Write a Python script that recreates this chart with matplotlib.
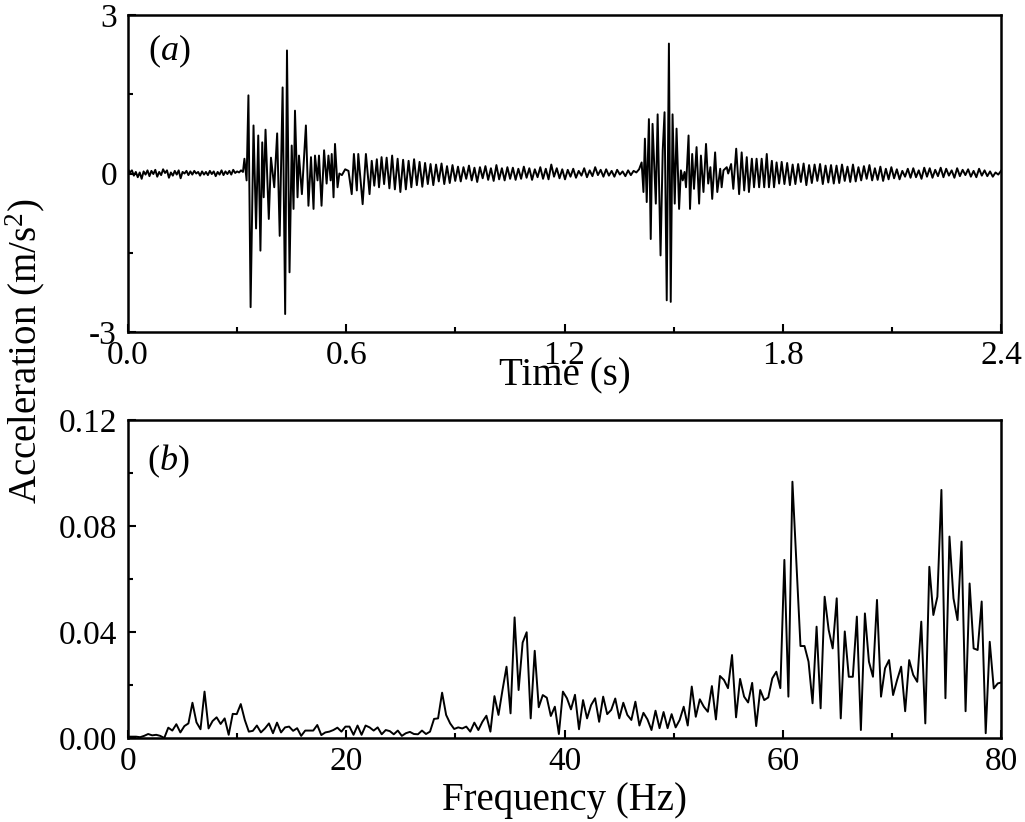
import numpy as np
import matplotlib.pyplot as plt

plt.rcParams['font.family'] = ['Liberation Serif', 'DejaVu Serif']
plt.rcParams['mathtext.fontset'] = 'custom'
plt.rcParams['mathtext.rm'] = 'Liberation Serif'
plt.rcParams['mathtext.it'] = 'Liberation Serif:italic'
plt.rcParams['axes.unicode_minus'] = False

# ---- (a) acceleration time history ----
# quiet / decaying parts are read as evenly spaced extremes between the span limits
quiet_span = (0.0, 0.316)
quiet_vals = [0.08, 0.02, 0.06, -0.04, 0.03, -0.07, 0.02, -0.10, 0.04, -0.02,
              0.06, -0.05, 0.05, -0.01, 0.07, -0.06, 0.03, -0.03, 0.08, 0.01,
              0.06, -0.08, 0.02, -0.04, 0.05, -0.02, 0.06, -0.09, 0.03, 0.00,
              0.05, -0.03, 0.04, -0.02, 0.05, 0.00, 0.03, -0.04, 0.04, -0.02,
              0.03, -0.03, 0.05, -0.01, 0.04, -0.05, 0.03, -0.02, 0.06, -0.03,
              0.04, -0.01, 0.05, -0.02, 0.07, 0.01, 0.04, 0.02, 0.06, 0.03]

burst1_t = [0.320, 0.326, 0.331, 0.337, 0.345, 0.352, 0.358, 0.364, 0.369, 0.373,
            0.378, 0.387, 0.393, 0.402, 0.410, 0.417, 0.425, 0.432, 0.437, 0.444,
            0.450, 0.455, 0.459, 0.466, 0.470, 0.478, 0.489, 0.496, 0.503, 0.510,
            0.514, 0.521, 0.525, 0.532, 0.539, 0.546, 0.551, 0.557, 0.560, 0.565,
            0.569, 0.576, 0.581, 0.588, 0.597, 0.606, 0.615, 0.621, 0.629, 0.633,
            0.645, 0.654, 0.664, 0.670, 0.677, 0.684, 0.690, 0.697, 0.704]
burst1_a = [0.28, -0.13, 1.48, -2.53, 0.91, -1.04, 0.72, -1.46, 0.59, -0.45,
            0.83, -0.86, 0.30, -0.26, 0.76, -1.18, 1.63, -2.66, 2.33, -1.87,
            0.53, -0.67, 1.19, -0.45, 0.34, -0.39, 0.91, -0.61, 0.31, -0.67,
            0.34, -0.13, 0.34, -0.61, 0.44, -0.19, 0.34, -0.13, 0.37, -0.45,
            0.56, -0.26, 0.00, -0.03, 0.08, 0.05, -0.39, 0.37, -0.32, 0.37,
            -0.58, 0.37, -0.39, 0.24, -0.23, 0.27, -0.26, 0.31, -0.20]

decay1_span = (0.711, 1.405)
decay1_vals = [0.30, -0.28, 0.34, -0.30, 0.28, -0.35, 0.26,
               -0.30, 0.24, -0.26, 0.27, -0.22, 0.22, -0.25, 0.20,
               -0.20, 0.18, -0.22, 0.17, -0.15, 0.19, -0.20, 0.14, -0.18, 0.16, -0.14,
               0.13, -0.15, 0.12, -0.10, 0.15, -0.13, 0.11, -0.16, 0.12, -0.09,
               0.14, -0.12, 0.10, -0.14, 0.16, -0.11, 0.10, -0.13, 0.12, -0.10,
               0.11, -0.12, 0.09, -0.10, 0.13, -0.08, 0.10, -0.12, 0.08, -0.07,
               0.12, -0.10, 0.09, -0.11, 0.17, -0.06, 0.10, -0.09, 0.08, -0.11,
               0.07, -0.06, 0.09, -0.08, 0.05, -0.04, 0.10, -0.07, 0.06, -0.05,
               0.12, -0.03, 0.07, -0.06, 0.08, -0.04, 0.05, -0.06, 0.07, -0.02,
               0.04, -0.05, 0.06, -0.03, 0.05, 0.02, 0.08]

burst2_t = [1.412, 1.417, 1.421, 1.426, 1.432, 1.437, 1.442, 1.451, 1.456, 1.464,
            1.470, 1.475, 1.481, 1.487, 1.492, 1.497, 1.503, 1.508, 1.515, 1.520,
            1.525, 1.530, 1.534, 1.541, 1.545, 1.551, 1.556, 1.563, 1.570, 1.575,
            1.582, 1.589, 1.595, 1.601, 1.606, 1.614, 1.620, 1.628, 1.632, 1.637,
            1.646, 1.650, 1.658, 1.664, 1.672, 1.680, 1.687, 1.694, 1.701, 1.707,
            1.715, 1.721, 1.728, 1.735, 1.742, 1.749, 1.756, 1.762, 1.770, 1.776,
            1.783, 1.790]
burst2_a = [0.21, -0.35, 0.66, -0.54, 1.03, -1.24, 0.94, -0.57, 1.12, -1.55,
            0.44, 1.16, -2.40, 2.46, -2.43, 1.12, -0.57, 0.85, -0.67, 0.06,
            -0.13, 0.03, -0.26, 0.72, -0.67, 0.37, -0.29, 0.50, -0.57, 0.34,
            -0.35, 0.56, -0.19, 0.12, -0.48, 0.40, -0.35, 0.09, -0.26, 0.06,
            0.12, 0.00, 0.18, -0.29, 0.47, -0.39, 0.40, -0.32, 0.31, -0.35,
            0.28, -0.26, 0.28, -0.26, 0.28, -0.26, 0.37, -0.26, 0.24, -0.26,
            0.21, -0.19]

decay2_span = (1.797, 2.400)
decay2_vals = [0.22, -0.20, 0.20, -0.22, 0.17,
               -0.20, 0.18, -0.16, 0.19, -0.22, 0.16, -0.18, 0.17, -0.14, 0.18, -0.20, 0.15,
               -0.17, 0.16, -0.19, 0.15, -0.18, 0.17, -0.14, 0.13, -0.16, 0.17, -0.15, 0.12,
               -0.13, 0.14, -0.10, 0.16, -0.13, 0.10, -0.12, 0.13, -0.14, 0.09, -0.11, 0.12,
               -0.09, 0.08, -0.11, 0.05, -0.06, 0.09, -0.08, 0.10, -0.07, 0.06, -0.10, 0.11, -0.06,
               0.10, -0.08, 0.07, -0.05, 0.11, -0.07, 0.09, -0.04, 0.06, -0.08, 0.10, -0.05,
               0.07, -0.03, 0.08, -0.06, 0.05, -0.07, 0.09, -0.04, 0.06, -0.05, 0.04, -0.06,
               0.02, -0.02, 0.05]

# ---- (b) amplitude spectrum, one value per frequency bin ----
df = 0.369
spectrum = [0.0005, 0.0005, 0.0005, 0.0003, 0.0008, 0.0015, 0.0010, 0.0012, 0.0008, 0.0000,
            0.0039, 0.0028, 0.0052, 0.0021, 0.0045, 0.0055, 0.0133, 0.0059, 0.0033, 0.0175,
            0.0036, 0.0064, 0.0078, 0.0053, 0.0074, 0.0012, 0.0091, 0.0090, 0.0128, 0.0068,
            0.0024, 0.0027, 0.0047, 0.0021, 0.0036, 0.0055, 0.0018, 0.0058, 0.0021, 0.0040,
            0.0043, 0.0027, 0.0037, 0.0008, 0.0028, 0.0028, 0.0028, 0.0049, 0.0011, 0.0021,
            0.0024, 0.0030, 0.0039, 0.0024, 0.0043, 0.0043, 0.0012, 0.0047, 0.0012, 0.0047,
            0.0040, 0.0028, 0.0040, 0.0014, 0.0030, 0.0026, 0.0014, 0.0028, 0.0008, 0.0018,
            0.0023, 0.0015, 0.0014, 0.0028, 0.0015, 0.0024, 0.0072, 0.0074, 0.0171, 0.0087,
            0.0055, 0.0034, 0.0040, 0.0036, 0.0043, 0.0024, 0.0058, 0.0030, 0.0061, 0.0084,
            0.0024, 0.0158, 0.0087, 0.0181, 0.0269, 0.0093, 0.0455, 0.0181, 0.0360, 0.0399,
            0.0074, 0.0329, 0.0116, 0.0162, 0.0152, 0.0083, 0.0118, 0.0015, 0.0175, 0.0150,
            0.0108, 0.0163, 0.0033, 0.0143, 0.0074, 0.0124, 0.0150, 0.0061, 0.0156, 0.0090,
            0.0106, 0.0149, 0.0074, 0.0133, 0.0087, 0.0068, 0.0137, 0.0047, 0.0095, 0.0070,
            0.0030, 0.0103, 0.0037, 0.0098, 0.0037, 0.0090, 0.0040, 0.0068, 0.0118, 0.0047,
            0.0194, 0.0080, 0.0146, 0.0118, 0.0099, 0.0196, 0.0070, 0.0234, 0.0219, 0.0188,
            0.0313, 0.0078, 0.0223, 0.0156, 0.0134, 0.0208, 0.0045, 0.0181, 0.0143, 0.0153,
            0.0225, 0.0250, 0.0188, 0.0672, 0.0156, 0.0967, 0.0660, 0.0347, 0.0347, 0.0288,
            0.0131, 0.0420, 0.0112, 0.0533, 0.0408, 0.0338, 0.0527, 0.0074, 0.0402, 0.0231,
            0.0231, 0.0458, 0.0030, 0.0470, 0.0288, 0.0231, 0.0521, 0.0156, 0.0263, 0.0294,
            0.0162, 0.0219, 0.0269, 0.0101, 0.0294, 0.0238, 0.0212, 0.0439, 0.0055, 0.0646,
            0.0464, 0.0533, 0.0936, 0.0150, 0.0760, 0.0527, 0.0445, 0.0741, 0.0101, 0.0583,
            0.0338, 0.0332, 0.0515, 0.0018, 0.0363, 0.0187, 0.0206, 0.0210]


def span_times(span, vals):
    """evenly spaced sample times inside a span"""
    return np.linspace(span[0], span[1], len(vals))


time = np.concatenate([span_times(quiet_span, quiet_vals), burst1_t,
                       span_times(decay1_span, decay1_vals), burst2_t,
                       span_times(decay2_span, decay2_vals)])
accel = np.concatenate([quiet_vals, burst1_a, decay1_vals, burst2_a, decay2_vals])
freq = np.arange(len(spectrum)) * df

FS = 24      # tick labels
LS = 28      # axis labels
fig = plt.figure(figsize=(10.25, 8.22), dpi=100)
ax1 = fig.add_axes([0.1249, 0.5961, 0.8517, 0.3856])
ax2 = fig.add_axes([0.1249, 0.1022, 0.8517, 0.3869])

ax1.plot(time, accel, color='black', lw=1.4)
ax1.set_xlim(0, 2.4)
ax1.set_ylim(-3, 3)
ax1.set_xticks([0.0, 0.6, 1.2, 1.8, 2.4])
ax1.set_xticklabels(['0.0', '0.6', '1.2', '1.8', '2.4'])
ax1.set_xticks([0.3, 0.9, 1.5, 2.1], minor=True)
ax1.set_yticks([-3, 0, 3])
ax1.set_yticklabels(['-3', '0', '3'])
ax1.set_yticks([-1.5, 1.5], minor=True)
ax1.set_xlabel('Time (s)', fontsize=LS, va='center')
ax1.xaxis.set_label_coords(0.5, -0.14)
ax1.text(0.023, 0.858, r'($a$)', transform=ax1.transAxes, fontsize=26, va='baseline')

ax2.plot(freq, spectrum, color='black', lw=1.4)
ax2.set_xlim(0, 80)
ax2.set_ylim(0, 0.12)
ax2.set_xticks([0, 20, 40, 60, 80])
ax2.set_xticks([10, 30, 50, 70], minor=True)
ax2.set_yticks([0, 0.04, 0.08, 0.12])
ax2.set_yticklabels(['0.00', '0.04', '0.08', '0.12'])
ax2.set_yticks([0.02, 0.06, 0.10], minor=True)
ax2.set_xlabel('Frequency (Hz)', fontsize=LS, va='center')
ax2.xaxis.set_label_coords(0.5, -0.195)
ax2.text(0.022, 0.843, r'($b$)', transform=ax2.transAxes, fontsize=26, va='baseline')

for ax in (ax1, ax2):
    for sp in ax.spines.values():
        sp.set_linewidth(1.8)
    ax.tick_params(which='both', direction='in', top=False, right=False,
                   labelsize=FS, width=1.5)
    ax.tick_params(which='major', length=6, pad=6)
    ax.tick_params(which='minor', length=3.5)
    ax.tick_params(axis='y', which='major', pad=8)

fig.text(0.025, 0.573, r'Acceleration (m/s$^{2}$)', rotation=90,
         fontsize=LS, ha='center', va='center')

fig.savefig('out.png', dpi=100)
